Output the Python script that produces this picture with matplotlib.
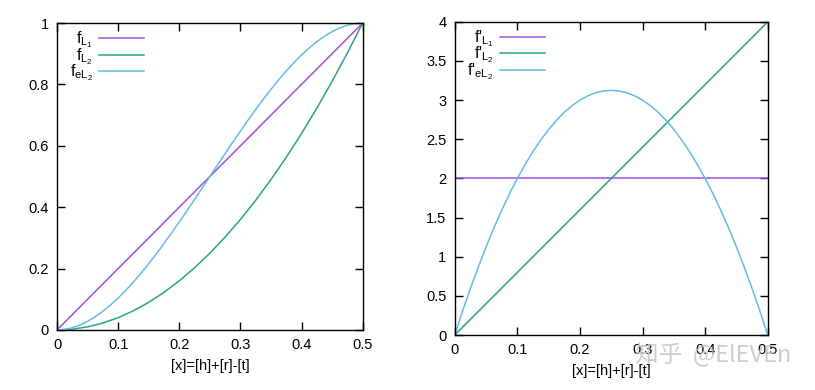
import numpy as np
import matplotlib.pyplot as plt
from matplotlib.ticker import FormatStrFormatter

# x samples (step 0.025)
x = [0, .025, .05, .075, .1, .125, .15, .175, .2, .225, .25,
     .275, .3, .325, .35, .375, .4, .425, .45, .475, .5]
# finer samples for the curved eL2 lines (step 0.0125)
xf = [0, .0125, .025, .0375, .05, .0625, .075, .0875, .1, .1125, .125,
      .1375, .15, .1625, .175, .1875, .2, .2125, .225, .2375, .25,
      .2625, .275, .2875, .3, .3125, .325, .3375, .35, .3625, .375,
      .3875, .4, .4125, .425, .4375, .45, .4625, .475, .4875, .5]

# left panel
f_L1 = [0, .05, .1, .15, .2, .25, .3, .35, .4, .45, .5,
        .55, .6, .65, .7, .75, .8, .85, .9, .95, 1]
f_L2 = [0, .0025, .01, .0225, .04, .0625, .09, .1225, .16, .2025, .25,
        .3025, .36, .4225, .49, .5625, .64, .7225, .81, .9025, 1]
f_eL2 = [0, .0018, .0073, .016, .028, .043, .0608, .0812, .104, .1291, .1563,
         .1853, .216, .2482, .2818, .3164, .352, .3883, .4253, .4625, .5,
         .5375, .5748, .6117, .648, .6836, .7183, .7518, .784, .8147, .8438,
         .8709, .896, .9188, .9393, .957, .972, .984, .9928, .9982, 1]

# right panel
d_L1 = [2] * 21
d_L2 = [0, .2, .4, .6, .8, 1, 1.2, 1.4, 1.6, 1.8, 2,
        2.2, 2.4, 2.6, 2.8, 3, 3.2, 3.4, 3.6, 3.8, 4]
d_eL2 = [0, .305, .594, .867, 1.125, 1.367, 1.594, 1.805, 2.0, 2.18, 2.344,
         2.492, 2.625, 2.742, 2.844, 2.93, 3.0, 3.055, 3.094, 3.117, 3.125,
         3.117, 3.094, 3.055, 3.0, 2.93, 2.844, 2.742, 2.625, 2.492, 2.344,
         2.18, 2.0, 1.805, 1.594, 1.367, 1.125, .867, .594, .305, 0]

purple, green, cyan = '#a24fd6', '#2aa57f', '#62bce8'

plt.rcParams['font.family'] = ['Liberation Sans', 'DejaVu Sans']
plt.rcParams['mathtext.fontset'] = 'custom'
plt.rcParams['mathtext.rm'] = 'Liberation Sans'
plt.rcParams['mathtext.it'] = 'Liberation Sans'

fig = plt.figure(figsize=(8.15, 3.9), dpi=100)
ax1 = fig.add_axes([0.070, 0.154, 0.375, 0.787])
ax2 = fig.add_axes([0.558, 0.141, 0.384, 0.803])

def style(ax, ymax, ystep):
    ax.set_xlim(0, 0.5)
    ax.set_ylim(0, ymax)
    ax.set_xticks(np.arange(0, 0.51, 0.1))
    ax.set_yticks(np.arange(0, ymax + 0.001, ystep))
    ax.xaxis.set_major_formatter(FormatStrFormatter('%g'))
    ax.yaxis.set_major_formatter(FormatStrFormatter('%g'))
    ax.tick_params(direction='in', length=6, width=1, top=True, right=True,
                   labelsize=10.5, pad=6)
    for s in ax.spines.values():
        s.set_linewidth(1)
    ax.set_xlabel('[x]=[h]+[r]-[t]', fontsize=10.5, labelpad=5)

ax1.plot(x, f_L1, color=purple, lw=1.1, label=r'f$_{\mathregular{L_1}}$')
ax1.plot(x, f_L2, color=green, lw=1.1, label=r'f$_{\mathregular{L_2}}$')
ax1.plot(xf, f_eL2, color=cyan, lw=1.1, label=r'f$_{\mathregular{eL_2}}$')
style(ax1, 1, 0.2)

ax2.plot(x, d_L1, color=purple, lw=1.1, label=r"f'$_{\mathregular{L_1}}$")
ax2.plot(x, d_L2, color=green, lw=1.1, label=r"f'$_{\mathregular{L_2}}$")
ax2.plot(xf, d_eL2, color=cyan, lw=1.1, label=r"f'$_{\mathregular{eL_2}}$")
style(ax2, 4, 0.5)

for ax in (ax1, ax2):
    ax.legend(loc='upper left', bbox_to_anchor=(0.01, 1.01), frameon=False,
              markerfirst=False, handlelength=2.8, labelspacing=-0.25,
              fontsize=11.5, borderaxespad=0.2, handletextpad=0.4)

fig.text(0.779, 0.075, '知乎  @ElEVEn', color='#c4c4c4', alpha=0.85, fontsize=17,
         family=['Noto Sans CJK SC', 'DejaVu Sans'])

fig.savefig('out.png', dpi=100)
